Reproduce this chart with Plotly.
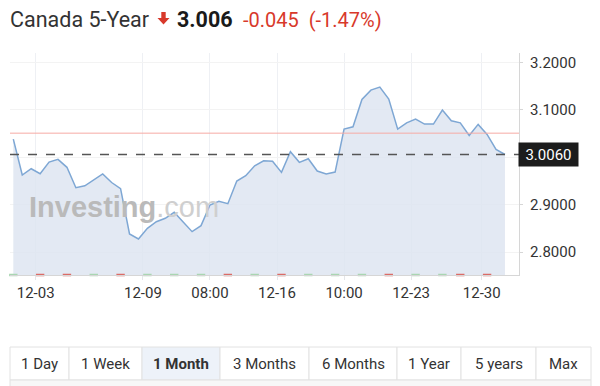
import plotly.graph_objects as go

# ---- data ----
values = [3.0385, 2.9627, 2.976, 2.9655, 2.990, 2.9958, 2.979, 2.936, 2.940, 2.952,
          2.965, 2.947, 2.934, 2.8385, 2.828, 2.8505, 2.8644, 2.8716, 2.8842, 2.8638,
          2.8434, 2.856, 2.8996, 2.9074, 2.9023, 2.950, 2.9613, 2.9823, 2.9928, 2.9916,
          2.9684, 3.0118, 2.9895, 2.997, 2.9712, 2.9648, 2.969, 3.0596, 3.0644, 3.1221,
          3.1417, 3.148, 3.1227, 3.0596, 3.0728, 3.0806, 3.0701, 3.0701, 3.0996, 3.077,
          3.0728, 3.0463, 3.0695, 3.0484, 3.0168, 3.006]
x_idx = list(range(len(values)))
x_tick_pos = [2.5, 14.5, 22, 29.5, 37, 44.5, 52.4]
x_tick_labels = ["12-03", "12-09", "08:00", "12-16", "10:00", "12-23", "12-30"]
y_ticks = [2.8, 2.9, 3.0, 3.1, 3.2]
y_tick_labels = ["2.8000", "2.9000", "", "3.1000", "3.2000"]
day_idx = [0, 3, 6, 9, 12, 15, 18, 21, 24, 27, 30, 33, 36, 39, 42, 45, 48, 50, 53]
day_up = [True, False, False, True, False, True, True, True, False, True, False,
          True, True, True, False, True, True, False, False]
last_price = 3.006
prev_close = 3.051
change = "-0.045"
change_pct = "(-1.47%)"
title = "Canada 5-Year"
buttons = ["1 Day", "1 Week", "1 Month", "3 Months", "6 Months", "1 Year", "5 years", "Max"]
button_edges = [10, 69, 142, 220, 309, 397, 461, 536, 591]
active_button = "1 Month"

Y_MIN, Y_MAX = 2.752, 3.22
X_MIN, X_MAX = -0.37, 56.57

# plot area in pixels
L, R, T, B = 10, 519, 53, 275
W, H = 600, 386

def px(x):
    return (x - L) / (R - L)

def py(y):
    return 1 - (y - T) / (B - T)

RED = "#d8392b"
TXT = "#333333"
FONT = "Roboto"

fig = go.Figure()

fig.add_trace(go.Scatter(
    x=x_idx, y=values, mode="lines", fill="tozeroy",
    fillcolor="rgba(221,228,240,0.82)",
    line=dict(color="#7ea7d4", width=1.5), hoverinfo="skip", showlegend=False))

fig.add_trace(go.Scatter(
    x=day_idx, y=[Y_MIN] * len(day_idx), mode="markers", cliponaxis=False,
    marker=dict(symbol="line-ew", size=6,
                line=dict(width=2.5, color=["#a9d6b2" if u else "#db6b66" for u in day_up])),
    hoverinfo="skip", showlegend=False))

shapes = []
# previous close line
shapes.append(dict(type="line", xref="paper", yref="y", x0=0, x1=1, y0=prev_close, y1=prev_close,
                   line=dict(color="#f6aaa4", width=1), layer="above"))
# last price dashed
shapes.append(dict(type="line", xref="paper", yref="y", x0=0, x1=1, y0=last_price, y1=last_price,
                   line=dict(color="#555555", width=1.5, dash="dash"), layer="above"))

# red down arrow in header
ax0, ay0 = 163.5, 12
arrow_path = (f"M {px(ax0-2.2)} {py(ay0)} L {px(ax0+2.2)} {py(ay0)} L {px(ax0+2.2)} {py(ay0+6)} "
              f"L {px(ax0+6)} {py(ay0+6)} L {px(ax0)} {py(ay0+12.5)} L {px(ax0-6)} {py(ay0+6)} "
              f"L {px(ax0-2.2)} {py(ay0+6)} Z")
shapes.append(dict(type="path", xref="paper", yref="paper", path=arrow_path,
                   fillcolor=RED, line=dict(width=0)))

# buttons
btn_top, btn_bot = 347, 380
for i, lab in enumerate(buttons):
    x0, x1 = button_edges[i], button_edges[i + 1]
    shapes.append(dict(type="rect", xref="paper", yref="paper",
                       x0=px(x0), x1=px(x1), y0=py(btn_bot), y1=py(btn_top),
                       fillcolor="#edf2f9" if lab == active_button else "white",
                       line=dict(color="#e2e2e2", width=1)))
shapes.append(dict(type="rect", xref="paper", yref="paper",
                   x0=px(button_edges[0]), x1=px(button_edges[-1]), y0=py(392), y1=py(btn_bot),
                   fillcolor="#f7f7f7", line=dict(color="#e2e2e2", width=1)))

annotations = []
annotations.append(dict(xref="paper", yref="paper", x=px(8), y=py(20), xanchor="left", yanchor="middle",
                        text=title, showarrow=False, font=dict(family=FONT, size=21.5, color=TXT)))
annotations.append(dict(xref="paper", yref="paper", x=px(175), y=py(20), xanchor="left", yanchor="middle",
                        text=f"<b>{last_price:.3f}</b>", showarrow=False,
                        font=dict(family=FONT, size=21.5, color="#1a1a1a")))
annotations.append(dict(xref="paper", yref="paper", x=px(241), y=py(20), xanchor="left", yanchor="middle",
                        text=f"{change}  {change_pct}", showarrow=False,
                        font=dict(family=FONT, size=20, color=RED)))
# watermark
annotations.append(dict(xref="paper", yref="paper", x=px(27), y=py(207), xanchor="left", yanchor="middle",
                        text="<b>Investing</b><span style='color:#cfcfcf;font-weight:normal'>.com</span>",
                        showarrow=False, font=dict(family="Liberation Sans", size=29, color="#bababa")))
# last price label
annotations.append(dict(xref="paper", yref="y", x=px(518), y=last_price, xanchor="left", yanchor="middle",
                        text=f"{last_price:.4f}", showarrow=False, bgcolor="#1c1c1c",
                        width=55, height=19, borderpad=2,
                        font=dict(family=FONT, size=15, color="white")))
for i, lab in enumerate(buttons):
    cx = (button_edges[i] + button_edges[i + 1]) / 2
    txt = f"<b>{lab}</b>" if lab == active_button else lab
    annotations.append(dict(xref="paper", yref="paper", x=px(cx), y=py(363.5), xanchor="center",
                            yanchor="middle", text=txt, showarrow=False,
                            font=dict(family=FONT, size=15, color=TXT)))

fig.update_layout(
    width=W, height=H, autosize=False,
    margin=dict(l=L, r=W - R, t=T, b=H - B, pad=0),
    paper_bgcolor="white", plot_bgcolor="white",
    shapes=shapes, annotations=annotations,
    xaxis=dict(range=[X_MIN, X_MAX], tickmode="array", tickvals=x_tick_pos, ticktext=x_tick_labels,
               showgrid=True, gridcolor="#eef0f4", gridwidth=1, zeroline=False,
               showline=True, linecolor="#d6d6d6", linewidth=1,
               ticks="outside", ticklen=4, tickcolor="#e4e6ea",
               tickfont=dict(family=FONT, size=15, color=TXT)),
    yaxis=dict(range=[Y_MIN, Y_MAX], side="right", tickmode="array", tickvals=y_ticks,
               ticktext=y_tick_labels, showgrid=True, gridcolor="#f3f3f3", zeroline=False,
               showline=True, linecolor="#d6d6d6", linewidth=1,
               ticks="outside", ticklen=3, tickcolor="#d6d6d6", ticklabelstandoff=4,
               tickfont=dict(family=FONT, size=15, color=TXT)),
)

fig.write_html("out.html")
